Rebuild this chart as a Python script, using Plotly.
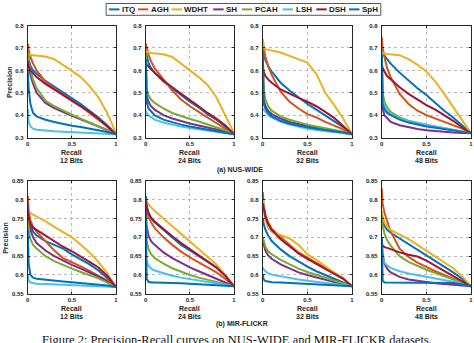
import plotly.graph_objects as go

# ---------------- data ----------------
methods = ["ITQ", "AGH", "WDHT", "SH", "PCAH", "LSH", "DSH", "SpH"]
recall = [0, 0.01, 0.03, 0.06, 0.1, 0.2, 0.3, 0.4, 0.5, 0.6, 0.7, 0.8, 0.9, 1.0]
bits_labels = ["12 Bits", "24 Bits", "32 Bits", "48 Bits"]
dataset_labels = ["(a) NUS-WIDE", "(b) MIR-FLICKR"]
y_ticks_nus = [0.3, 0.4, 0.5, 0.6, 0.7, 0.8]
y_ticks_mir = [0.55, 0.6, 0.65, 0.7, 0.75, 0.8, 0.85]
x_ticks = [0, 0.5, 1]

nus_12 = dict(
    ITQ=[0.67, 0.65, 0.62, 0.60, 0.585, 0.553, 0.528, 0.50, 0.475, 0.45, 0.42, 0.39, 0.355, 0.315],
    AGH=[0.72, 0.69, 0.66, 0.63, 0.60, 0.55, 0.518, 0.49, 0.465, 0.44, 0.41, 0.38, 0.35, 0.315],
    WDHT=[0.675, 0.672, 0.67, 0.668, 0.667, 0.662, 0.65, 0.625, 0.598, 0.57, 0.53, 0.48, 0.41, 0.32],
    SH=[0.66, 0.62, 0.58, 0.54, 0.50, 0.455, 0.432, 0.413, 0.397, 0.382, 0.367, 0.351, 0.334, 0.315],
    PCAH=[0.68, 0.64, 0.60, 0.56, 0.52, 0.465, 0.44, 0.42, 0.402, 0.385, 0.368, 0.352, 0.335, 0.315],
    LSH=[0.43, 0.37, 0.35, 0.34, 0.335, 0.33, 0.328, 0.326, 0.324, 0.322, 0.32, 0.319, 0.317, 0.315],
    DSH=[0.64, 0.62, 0.60, 0.585, 0.57, 0.54, 0.515, 0.49, 0.465, 0.44, 0.415, 0.385, 0.35, 0.315],
    SpH=[0.60, 0.52, 0.45, 0.41, 0.395, 0.38, 0.37, 0.36, 0.353, 0.347, 0.34, 0.333, 0.325, 0.315],
)
nus_24 = dict(
    ITQ=[0.68, 0.66, 0.635, 0.61, 0.59, 0.55, 0.52, 0.49, 0.46, 0.435, 0.405, 0.38, 0.35, 0.315],
    AGH=[0.72, 0.70, 0.67, 0.64, 0.61, 0.56, 0.51, 0.47, 0.44, 0.415, 0.39, 0.365, 0.34, 0.315],
    WDHT=[0.685, 0.683, 0.68, 0.678, 0.676, 0.672, 0.66, 0.63, 0.60, 0.57, 0.535, 0.48, 0.40, 0.32],
    SH=[0.67, 0.49, 0.46, 0.44, 0.425, 0.40, 0.385, 0.373, 0.363, 0.354, 0.345, 0.337, 0.327, 0.315],
    PCAH=[0.68, 0.52, 0.49, 0.47, 0.455, 0.43, 0.41, 0.395, 0.383, 0.372, 0.36, 0.348, 0.333, 0.315],
    LSH=[0.42, 0.41, 0.40, 0.39, 0.38, 0.367, 0.357, 0.349, 0.343, 0.337, 0.332, 0.327, 0.321, 0.315],
    DSH=[0.63, 0.625, 0.615, 0.605, 0.59, 0.555, 0.525, 0.495, 0.468, 0.44, 0.41, 0.385, 0.355, 0.315],
    SpH=[0.65, 0.46, 0.43, 0.415, 0.40, 0.38, 0.368, 0.358, 0.35, 0.343, 0.337, 0.331, 0.324, 0.315],
)
nus_32 = dict(
    ITQ=[0.69, 0.67, 0.645, 0.62, 0.595, 0.545, 0.51, 0.48, 0.45, 0.425, 0.40, 0.375, 0.347, 0.315],
    AGH=[0.74, 0.70, 0.66, 0.62, 0.58, 0.505, 0.46, 0.43, 0.405, 0.39, 0.37, 0.355, 0.337, 0.315],
    WDHT=[0.74, 0.70, 0.695, 0.692, 0.69, 0.68, 0.665, 0.65, 0.635, 0.585, 0.50, 0.445, 0.385, 0.315],
    SH=[0.68, 0.47, 0.44, 0.42, 0.405, 0.385, 0.37, 0.36, 0.352, 0.345, 0.338, 0.332, 0.325, 0.315],
    PCAH=[0.70, 0.52, 0.47, 0.44, 0.42, 0.395, 0.38, 0.368, 0.358, 0.35, 0.342, 0.335, 0.326, 0.315],
    LSH=[0.43, 0.425, 0.415, 0.40, 0.39, 0.37, 0.358, 0.348, 0.34, 0.334, 0.329, 0.325, 0.32, 0.315],
    DSH=[0.60, 0.59, 0.575, 0.56, 0.545, 0.515, 0.495, 0.477, 0.46, 0.44, 0.415, 0.388, 0.352, 0.315],
    SpH=[0.69, 0.45, 0.43, 0.41, 0.395, 0.375, 0.362, 0.353, 0.346, 0.34, 0.335, 0.33, 0.323, 0.315],
)
nus_48 = dict(
    ITQ=[0.68, 0.675, 0.665, 0.65, 0.63, 0.59, 0.555, 0.52, 0.49, 0.455, 0.42, 0.39, 0.355, 0.32],
    AGH=[0.75, 0.70, 0.66, 0.61, 0.57, 0.495, 0.45, 0.42, 0.40, 0.385, 0.37, 0.355, 0.34, 0.32],
    WDHT=[0.68, 0.677, 0.675, 0.673, 0.672, 0.668, 0.65, 0.625, 0.595, 0.55, 0.495, 0.435, 0.38, 0.32],
    SH=[0.66, 0.43, 0.40, 0.385, 0.37, 0.355, 0.345, 0.338, 0.333, 0.329, 0.326, 0.323, 0.321, 0.32],
    PCAH=[0.68, 0.50, 0.46, 0.435, 0.415, 0.39, 0.375, 0.365, 0.357, 0.35, 0.343, 0.336, 0.328, 0.32],
    LSH=[0.68, 0.47, 0.44, 0.42, 0.405, 0.385, 0.373, 0.364, 0.357, 0.35, 0.343, 0.336, 0.328, 0.32],
    DSH=[0.62, 0.61, 0.595, 0.575, 0.56, 0.525, 0.495, 0.47, 0.445, 0.425, 0.40, 0.375, 0.345, 0.32],
    SpH=[0.67, 0.45, 0.425, 0.41, 0.40, 0.38, 0.367, 0.358, 0.35, 0.344, 0.338, 0.332, 0.326, 0.32],
)
mir_12 = dict(
    ITQ=[0.77, 0.75, 0.73, 0.715, 0.705, 0.69, 0.68, 0.67, 0.655, 0.642, 0.628, 0.612, 0.592, 0.568],
    AGH=[0.81, 0.77, 0.745, 0.728, 0.715, 0.69, 0.665, 0.645, 0.635, 0.623, 0.611, 0.598, 0.585, 0.568],
    WDHT=[0.77, 0.768, 0.765, 0.76, 0.755, 0.743, 0.728, 0.713, 0.70, 0.68, 0.66, 0.635, 0.605, 0.568],
    SH=[0.79, 0.745, 0.72, 0.70, 0.685, 0.665, 0.65, 0.638, 0.627, 0.617, 0.607, 0.596, 0.583, 0.568],
    PCAH=[0.76, 0.72, 0.695, 0.68, 0.67, 0.65, 0.637, 0.626, 0.617, 0.608, 0.60, 0.591, 0.58, 0.568],
    LSH=[0.60, 0.585, 0.58, 0.578, 0.577, 0.576, 0.575, 0.574, 0.573, 0.572, 0.571, 0.57, 0.569, 0.568],
    DSH=[0.77, 0.75, 0.735, 0.725, 0.72, 0.705, 0.69, 0.675, 0.663, 0.65, 0.635, 0.62, 0.598, 0.568],
    SpH=[0.72, 0.63, 0.60, 0.593, 0.59, 0.587, 0.585, 0.583, 0.581, 0.579, 0.577, 0.575, 0.572, 0.568],
)
mir_24 = dict(
    ITQ=[0.81, 0.785, 0.765, 0.75, 0.74, 0.72, 0.70, 0.68, 0.665, 0.65, 0.635, 0.62, 0.60, 0.57],
    AGH=[0.80, 0.775, 0.755, 0.74, 0.725, 0.70, 0.68, 0.662, 0.647, 0.633, 0.62, 0.607, 0.59, 0.57],
    WDHT=[0.80, 0.795, 0.788, 0.78, 0.77, 0.75, 0.73, 0.71, 0.69, 0.67, 0.65, 0.628, 0.60, 0.57],
    SH=[0.78, 0.73, 0.705, 0.69, 0.68, 0.66, 0.645, 0.632, 0.62, 0.61, 0.60, 0.59, 0.58, 0.57],
    PCAH=[0.76, 0.69, 0.67, 0.655, 0.645, 0.63, 0.618, 0.608, 0.60, 0.593, 0.587, 0.581, 0.576, 0.57],
    LSH=[0.65, 0.635, 0.625, 0.617, 0.612, 0.604, 0.598, 0.593, 0.589, 0.585, 0.581, 0.578, 0.574, 0.57],
    DSH=[0.80, 0.78, 0.765, 0.752, 0.742, 0.722, 0.703, 0.685, 0.668, 0.652, 0.636, 0.62, 0.598, 0.57],
    SpH=[0.76, 0.59, 0.582, 0.58, 0.58, 0.58, 0.579, 0.578, 0.577, 0.576, 0.575, 0.574, 0.572, 0.57],
)
mir_32 = dict(
    ITQ=[0.75, 0.735, 0.72, 0.705, 0.69, 0.668, 0.65, 0.635, 0.622, 0.61, 0.60, 0.59, 0.58, 0.57],
    AGH=[0.82, 0.785, 0.76, 0.74, 0.722, 0.70, 0.68, 0.66, 0.645, 0.632, 0.62, 0.607, 0.592, 0.57],
    WDHT=[0.80, 0.77, 0.745, 0.725, 0.715, 0.705, 0.697, 0.68, 0.655, 0.64, 0.624, 0.607, 0.59, 0.57],
    SH=[0.69, 0.68, 0.665, 0.652, 0.643, 0.628, 0.617, 0.607, 0.60, 0.593, 0.587, 0.581, 0.576, 0.57],
    PCAH=[0.70, 0.69, 0.675, 0.663, 0.655, 0.64, 0.628, 0.617, 0.608, 0.60, 0.592, 0.585, 0.578, 0.57],
    LSH=[0.62, 0.615, 0.61, 0.605, 0.601, 0.596, 0.592, 0.588, 0.585, 0.582, 0.579, 0.577, 0.574, 0.57],
    DSH=[0.79, 0.775, 0.755, 0.735, 0.72, 0.695, 0.675, 0.657, 0.643, 0.63, 0.618, 0.605, 0.59, 0.57],
    SpH=[0.60, 0.588, 0.584, 0.582, 0.581, 0.58, 0.579, 0.578, 0.577, 0.576, 0.575, 0.574, 0.572, 0.57],
)
mir_48 = dict(
    ITQ=[0.76, 0.745, 0.73, 0.72, 0.712, 0.697, 0.683, 0.668, 0.653, 0.638, 0.622, 0.607, 0.59, 0.57],
    AGH=[0.83, 0.79, 0.765, 0.745, 0.715, 0.67, 0.648, 0.633, 0.621, 0.61, 0.60, 0.59, 0.58, 0.57],
    WDHT=[0.77, 0.755, 0.74, 0.728, 0.72, 0.708, 0.695, 0.68, 0.665, 0.65, 0.635, 0.618, 0.597, 0.57],
    SH=[0.70, 0.655, 0.63, 0.617, 0.607, 0.595, 0.588, 0.584, 0.581, 0.578, 0.576, 0.574, 0.572, 0.57],
    PCAH=[0.76, 0.73, 0.71, 0.692, 0.678, 0.65, 0.635, 0.624, 0.614, 0.605, 0.597, 0.589, 0.58, 0.57],
    LSH=[0.66, 0.645, 0.632, 0.625, 0.619, 0.61, 0.604, 0.60, 0.596, 0.592, 0.587, 0.582, 0.576, 0.57],
    DSH=[0.68, 0.677, 0.674, 0.672, 0.668, 0.66, 0.654, 0.649, 0.638, 0.624, 0.61, 0.597, 0.584, 0.57],
    SpH=[0.70, 0.585, 0.58, 0.58, 0.58, 0.58, 0.58, 0.58, 0.58, 0.58, 0.58, 0.579, 0.575, 0.57],
)

colors = {"ITQ": "#0072BD", "AGH": "#D95319", "WDHT": "#EDB120", "SH": "#7E2F8E",
          "PCAH": "#77AC30", "LSH": "#4DBEEE", "DSH": "#A2142F", "SpH": "#0072BD"}

panels = [nus_12, nus_24, nus_32, nus_48, mir_12, mir_24, mir_32, mir_48]

# ---------------- layout helpers (pixels -> paper) ----------------
W, H = 474, 343
def px(x):
    return x / W
def py(y):
    return 1 - y / H

col_px = [(26, 115), (145, 234), (263, 353), (383, 473)]
row_px = [(23, 137), (181, 296)]
row_range = [[0.3, 0.8], [0.55, 0.85]]
row_ticks = [y_ticks_nus, y_ticks_mir]

AX = "#262626"
GRID = "#b8b8b8"
FONT = "Arial"

fig = go.Figure()
layout = dict(width=W, height=H, margin=dict(l=0, r=0, t=0, b=0),
              paper_bgcolor="white", plot_bgcolor="white", showlegend=False)

annotations = []
shapes = []

for i, pdata in enumerate(panels):
    r, c = divmod(i, 4)
    n = i + 1
    xa = "xaxis" if n == 1 else f"xaxis{n}"
    ya = "yaxis" if n == 1 else f"yaxis{n}"
    xref = "x" if n == 1 else f"x{n}"
    yref = "y" if n == 1 else f"y{n}"
    x0, x1 = col_px[c]
    y0, y1 = row_px[r]
    layout[xa] = dict(domain=[px(x0), px(x1)], anchor=yref, range=[0, 1],
                      tickvals=x_ticks, ticktext=["0", "0.5", "1"],
                      showline=True, linecolor=AX, linewidth=1, mirror="ticks",
                      ticks="inside", ticklen=2, tickcolor=AX,
                      showgrid=True, gridcolor=GRID, griddash="dot", gridwidth=1,
                      zeroline=False, tickfont=dict(family=FONT, size=6, color=AX, weight="bold"),
                      ticklabelstandoff=0)
    layout[ya] = dict(domain=[py(y1), py(y0)], anchor=xref, range=row_range[r],
                      tickvals=row_ticks[r],
                      showline=True, linecolor=AX, linewidth=1, mirror="ticks",
                      ticks="inside", ticklen=2, tickcolor=AX,
                      showgrid=True, gridcolor=GRID, griddash="dot", gridwidth=1,
                      zeroline=False, tickfont=dict(family=FONT, size=6, color=AX, weight="bold"),
                      ticklabelstandoff=2)
    for m in methods:
        fig.add_trace(go.Scatter(x=recall, y=pdata[m], mode="lines", name=m,
                                 line=dict(color=colors[m], width=2),
                                 xaxis=xref, yaxis=yref, showlegend=False))
    cx = (x0 + x1) / 2
    base = y1
    annotations.append(dict(text="<b>Recall</b>", x=px(cx), y=py(base + 15), xref="paper", yref="paper",
                            showarrow=False, font=dict(family=FONT, size=7, color=AX),
                            xanchor="center", yanchor="middle"))
    annotations.append(dict(text="<b>" + bits_labels[c] + "</b>", x=px(cx), y=py(base + 23), xref="paper",
                            yref="paper", showarrow=False, font=dict(family=FONT, size=7, color=AX),
                            xanchor="center", yanchor="middle"))

# y titles
for r in range(2):
    y0, y1 = row_px[r]
    annotations.append(dict(text="<b>Precision</b>", x=px(7.5 if r == 0 else 3.5), y=py((y0 + y1) / 2),
                            xref="paper", yref="paper", showarrow=False, textangle=-90,
                            font=dict(family=FONT, size=7, color=AX), xanchor="center", yanchor="middle"))

# dataset captions
annotations.append(dict(text="<b>" + dataset_labels[0] + "</b>", x=px(240), y=py(169.5), xref="paper",
                        yref="paper", showarrow=False, font=dict(family=FONT, size=7, color=AX),
                        xanchor="center", yanchor="middle"))
annotations.append(dict(text="<b>" + dataset_labels[1] + "</b>", x=px(242), y=py(327), xref="paper",
                        yref="paper", showarrow=False, font=dict(family=FONT, size=7, color=AX),
                        xanchor="center", yanchor="middle"))
# figure caption (sits at the very bottom edge, as in the reference)
annotations.append(dict(text="Figure 2: Precision-Recall curves on NUS-WIDE and MIR-FLICKR datasets.",
                        x=px(237), y=py(343.5), xref="paper", yref="paper", showarrow=False,
                        font=dict(family="Liberation Serif", size=12.5, color="#111111"),
                        xanchor="center", yanchor="middle"))

# legend box
shapes.append(dict(type="rect", xref="paper", yref="paper", x0=px(105), x1=px(382), y0=py(12.5), y1=py(0.5),
                   line=dict(color="#555555", width=1), fillcolor="white", layer="above"))
leg_x = [108, 137, 171, 213, 242, 283, 317, 350]
for m, lx in zip(methods, leg_x):
    shapes.append(dict(type="line", xref="paper", yref="paper", x0=px(lx), x1=px(lx + 10.5),
                       y0=py(6.5), y1=py(6.5), line=dict(color=colors[m], width=2), layer="above"))
    annotations.append(dict(text="<b>" + m + "</b>", x=px(lx + 11), y=py(6.8), xref="paper", yref="paper",
                            showarrow=False, font=dict(family=FONT, size=8, color="#1a1a1a"),
                            xanchor="left", yanchor="middle"))

layout["annotations"] = annotations
layout["shapes"] = shapes
fig.update_layout(**layout)
fig.write_html("out.html")
